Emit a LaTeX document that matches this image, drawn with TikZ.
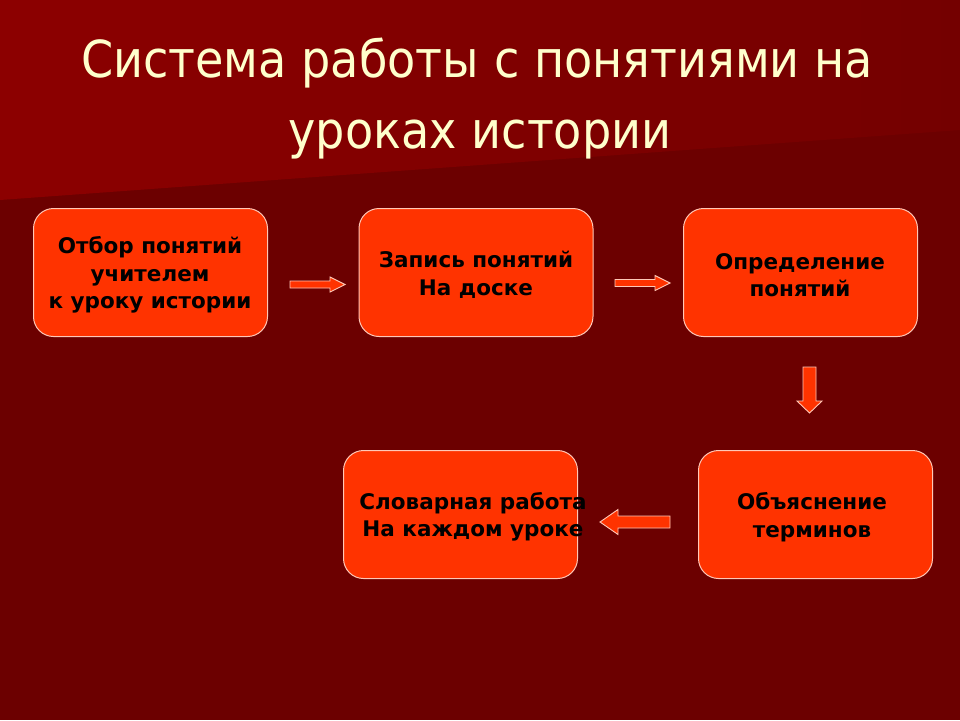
\documentclass[tikz,border=0pt]{standalone}
\usepackage{fontspec}
\setmainfont{DejaVu Sans}
\newfontfamily\titlefont{DejaVu Sans}
\usepackage{graphicx}
\definecolor{bgdark}{HTML}{6C0000}
\definecolor{bgtopl}{HTML}{8C0000}
\definecolor{bgtopr}{HTML}{740000}
\definecolor{boxred}{HTML}{FF3300}
\definecolor{boxline}{HTML}{FFC8B8}
\definecolor{titlecol}{HTML}{FFFFCC}
\tikzset{
  stepbox/.style={draw=boxline, fill=boxred, line width=1pt, rounded corners=20pt,
    minimum width=234pt, minimum height=128pt, inner sep=0pt},
  boxtext/.style={font=\fontsize{21.5}{27.5}\selectfont\bfseries, text=black, align=center, inner sep=0pt},
  blockarrow/.style={draw=boxline, fill=boxred, line width=0.9pt, line join=miter},
  titletext/.style={font=\titlefont\fontsize{51}{60}\selectfont, text=titlecol, anchor=base, inner sep=0pt}
}
\begin{document}
\begin{tikzpicture}[x=1pt,y=-1pt]
\useasboundingbox (0,0) rectangle (960,720);
\fill[bgdark] (0,0) rectangle (960,720);
\shade[left color=bgtopl, right color=bgtopr] (0,0) -- (960,0) -- (960,130) -- (0,200) -- cycle;

\node[titletext] (t1) at (477,77) {\scalebox{0.905}[1]{Система работы с понятиями на}};
\node[titletext] (t2) at (480,148) {\scalebox{0.905}[1]{уроках истории}};

\node[stepbox] (b1) at (150.5,272.5) {};
\node[stepbox] (b2) at (476,272.5) {};
\node[stepbox] (b3) at (800.5,272.5) {};
\node[stepbox] (b4) at (460.5,514.5) {};
\node[stepbox] (b5) at (815.5,514.5) {};

\node[boxtext] (l1) at (150,275) {Отбор понятий\\учителем\\ к уроку истории};
\node[boxtext] (l2) at (476,275) {Запись понятий\\На доске};
\node[boxtext] (l3) at (800,275) {Определение\\понятий};
\node[boxtext] (l4) at (473,517) {Словарная работа\\На каждом уроке};
\node[boxtext] (l5) at (812,517) {Объяснение\\терминов};

% right arrow 1
\draw[blockarrow] (290,281) -- (330,281) -- (330,277) -- (345,284.5) -- (330,292) -- (330,288) -- (290,288) -- cycle;
% right arrow 2
\draw[blockarrow] (615,279.5) -- (655,279.5) -- (655,275.5) -- (670,283) -- (655,290.5) -- (655,286.5) -- (615,286.5) -- cycle;
% down arrow
\draw[blockarrow] (803,367) -- (816,367) -- (816,401) -- (822,401) -- (809.5,413) -- (797,401) -- (803,401) -- cycle;
% left arrow
\draw[blockarrow] (670,516) -- (618,516) -- (618,509.5) -- (600,522) -- (618,534.5) -- (618,528) -- (670,528) -- cycle;
\end{tikzpicture}
\end{document}
